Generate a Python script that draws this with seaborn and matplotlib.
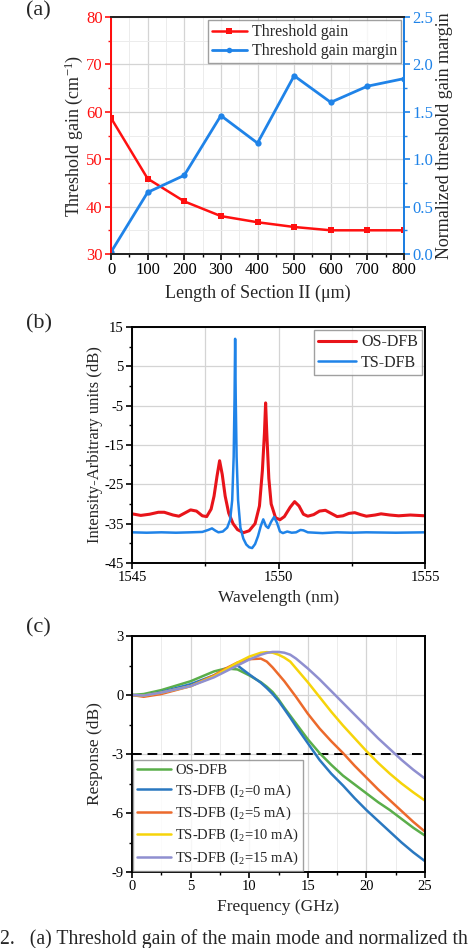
import matplotlib
matplotlib.use("Agg")
import matplotlib.pyplot as plt
from matplotlib.ticker import MultipleLocator, FixedLocator, FormatStrFormatter
from matplotlib.lines import Line2D
import pandas as pd
import seaborn as sns

sns.set_theme(style="white")
plt.rcParams["font.family"] = ["Liberation Serif", "DejaVu Serif"]
plt.rcParams["mathtext.fontset"] = "custom"
plt.rcParams["mathtext.rm"] = "Liberation Serif"
plt.rcParams["mathtext.it"] = "Liberation Serif:italic"
plt.rcParams["axes.unicode_minus"] = False

# ---- panel (a) data ----
section_len = [0, 100, 200, 300, 400, 500, 600, 700, 800]
threshold_gain = [58.7, 45.9, 41.1, 38.0, 36.7, 35.7, 35.0, 35.0, 35.0]
gain_margin = [0.02, 0.65, 0.83, 1.46, 1.17, 1.88, 1.60, 1.77, 1.85]

# ---- panel (b) data ----
os_wl = [1545.0, 1545.3, 1545.6, 1545.9, 1546.1, 1546.4, 1546.6, 1546.8, 1547.0, 1547.2,
         1547.4, 1547.55, 1547.7, 1547.8, 1547.9, 1547.99, 1548.08, 1548.18, 1548.3, 1548.45,
         1548.6, 1548.8, 1549.0, 1549.2, 1549.35, 1549.45, 1549.52, 1549.56, 1549.6, 1549.67,
         1549.75, 1549.9, 1550.05, 1550.2, 1550.4, 1550.55, 1550.7, 1550.85, 1551.0, 1551.2,
         1551.4, 1551.6, 1551.8, 1552.0, 1552.2, 1552.4, 1552.6, 1552.8, 1553.0, 1553.3,
         1553.5, 1553.8, 1554.1, 1554.5, 1555.0]
os_db = [-32.5, -32.9, -32.6, -32.1, -32.1, -32.8, -33.1, -32.3, -31.5, -31.8,
         -33.0, -33.2, -31.3, -28.0, -23.0, -19.0, -22.5, -28.0, -32.3, -35.0,
         -36.5, -37.3, -36.8, -35.0, -30.5, -21.5, -12.0, -4.3, -12.0, -23.5,
         -30.0, -33.5, -34.0, -33.2, -30.8, -29.4, -30.5, -32.6, -33.1, -32.7,
         -31.8, -31.6, -32.4, -33.2, -33.0, -32.4, -32.2, -32.7, -33.1, -32.8,
         -32.5, -32.8, -33.0, -32.8, -33.0]

ts_wl = [1545.0, 1545.5, 1546.0, 1546.5, 1547.0, 1547.4, 1547.6, 1547.73, 1547.85, 1547.95,
         1548.1, 1548.25, 1548.35, 1548.42, 1548.47, 1548.5, 1548.52, 1548.54, 1548.57, 1548.62,
         1548.7, 1548.8, 1548.9, 1549.0, 1549.1, 1549.2, 1549.3, 1549.4, 1549.48, 1549.57,
         1549.65, 1549.75, 1549.85, 1549.95, 1550.05, 1550.15, 1550.3, 1550.45, 1550.6, 1550.75,
         1550.85, 1551.0, 1551.5, 1552.0, 1552.5, 1553.0, 1554.0, 1555.0]
ts_db = [-37.2, -37.3, -37.2, -37.3, -37.2, -37.1, -36.6, -36.2, -36.8, -37.2,
         -37.0, -36.0, -34.0, -29.0, -18.0, -3.0, 12.0, -3.0, -18.0, -29.0,
         -36.0, -38.8, -40.3, -41.0, -41.2, -40.2, -38.2, -35.5, -33.9, -35.6,
         -36.1, -34.5, -33.3, -34.8, -37.0, -37.4, -37.0, -37.3, -37.2, -36.6,
         -36.7, -37.2, -37.4, -37.2, -37.3, -37.2, -37.3, -37.2]

# ---- panel (c) data ----
freq = [0, 1, 2.5, 5, 7, 8, 9, 10, 11, 11.5, 12, 12.5, 13, 13.5, 14, 15, 16, 17, 18, 19,
        20, 21, 22, 23, 24, 25]
resp_os = [0, 0.05, 0.25, 0.70, 1.20, 1.35, 1.30, 1.00, 0.65, 0.42, 0.15, -0.22, -0.65, -1.05,
           -1.45, -2.25, -2.95, -3.55, -4.10, -4.55, -5.00, -5.45, -5.85, -6.30, -6.75, -7.15]
resp_i0 = [0, -0.03, 0.15, 0.55, 1.00, 1.30, 1.50, 1.05, 0.62, 0.35, 0.05, -0.30, -0.72, -1.15,
           -1.60, -2.45, -3.30, -4.00, -4.60, -5.25, -5.85, -6.40, -6.95, -7.50, -8.00, -8.45]
resp_i5 = [0, -0.09, 0.05, 0.45, 1.00, 1.35, 1.65, 1.82, 1.85, 1.70, 1.40, 1.05, 0.70, 0.30,
           -0.10, -0.95, -1.70, -2.35, -2.95, -3.60, -4.20, -4.80, -5.35, -5.90, -6.45, -6.95]
resp_i10 = [0, -0.03, 0.12, 0.45, 0.95, 1.30, 1.65, 1.95, 2.15, 2.18, 2.15, 2.05, 1.90, 1.70,
            1.35, 0.65, -0.10, -0.85, -1.55, -2.20, -2.85, -3.45, -4.00, -4.50, -4.95, -5.37]
resp_i15 = [0, -0.03, 0.12, 0.45, 0.90, 1.20, 1.50, 1.80, 2.05, 2.14, 2.19, 2.19, 2.15, 2.05,
            1.85, 1.35, 0.80, 0.20, -0.40, -1.00, -1.60, -2.20, -2.75, -3.30, -3.80, -4.25]
resp_labels = ["OS-DFB", "TS-DFB (I$_2$=0 mA)", "TS-DFB (I$_2$=5 mA)",
               "TS-DFB (I$_2$=10 mA)", "TS-DFB (I$_2$=15 mA)"]
resp_colors = ["#5aae4a", "#2a78c0", "#ec6a2c", "#f6d40a", "#8f8fd0"]

RED = "#ff1010"
BLUE = "#1f83e8"
GRID = "#d4d4d4"
MINOR_GRID = "#ececec"

fig = plt.figure(figsize=(4.74, 9.48), dpi=100)
W, H = 474, 948


def box(left, top, right, bottom):
    return [left / W, (H - bottom) / H, (right - left) / W, (bottom - top) / H]


def style_axes(ax, size):
    for s in ax.spines.values():
        s.set_color("black")
        s.set_linewidth(1.4)
    ax.tick_params(which="major", direction="out", length=4, width=1.2, colors="black",
                   labelsize=size, pad=2)
    ax.tick_params(which="minor", direction="out", length=2.5, width=1.0, colors="black")
    ax.tick_params(top=False, right=False, bottom=True, left=True)
    ax.tick_params(which="minor", top=False, right=False, bottom=True, left=True)


def style_legend(leg):
    leg.get_frame().set_linewidth(1.0)
    leg.get_frame().set_edgecolor("#888888")


# ================= (a) =================
ax_a = fig.add_axes(box(111, 17, 404, 254))
ax_a2 = ax_a.twinx()
df_a = pd.DataFrame({"L": section_len, "gain": threshold_gain, "margin": gain_margin})
sns.lineplot(data=df_a, x="L", y="gain", ax=ax_a, color=RED, lw=1.8, marker="s",
             markersize=4.5, markeredgewidth=0)
sns.lineplot(data=df_a, x="L", y="margin", ax=ax_a2, color=BLUE, lw=2.0, marker="o",
             markersize=4.5, markeredgewidth=0)
ax_a.set_xlim(0, 800)
ax_a.set_ylim(30, 80)
ax_a2.set_ylim(0, 2.5)
ax_a.xaxis.set_major_locator(MultipleLocator(100))
ax_a.xaxis.set_minor_locator(MultipleLocator(50))
ax_a.yaxis.set_major_locator(MultipleLocator(10))
ax_a.yaxis.set_minor_locator(MultipleLocator(5))
ax_a2.yaxis.set_major_locator(MultipleLocator(0.5))
ax_a2.yaxis.set_minor_locator(MultipleLocator(0.25))
ax_a2.yaxis.set_major_formatter(FormatStrFormatter("%.1f"))
ax_a.grid(which="major", color=GRID, lw=0.9)
ax_a.grid(which="minor", color=MINOR_GRID, lw=0.7)
ax_a.set_axisbelow(True)
style_axes(ax_a, 12)
for s in ax_a2.spines.values():
    s.set_linewidth(1.4)
ax_a.spines["left"].set_color(RED)
ax_a2.spines["left"].set_color(RED)
ax_a2.spines["right"].set_color(BLUE)
ax_a.tick_params(axis="y", which="both", colors=RED)
ax_a2.tick_params(axis="y", which="major", direction="out", length=4, width=1.2,
                  colors=BLUE, labelsize=12, pad=2)
ax_a2.tick_params(axis="y", which="minor", direction="out", length=2.5, width=1.0,
                  colors=BLUE)
ax_a.set_xlabel("Length of Section II (μm)", fontsize=13, labelpad=4)
ax_a.set_ylabel("Threshold gain (cm$^{-1}$)", fontsize=13, labelpad=1)
ax_a2.set_ylabel("Normalized threshold gain margin", fontsize=13, labelpad=2)
handles_a = [Line2D([], [], color=RED, lw=1.8, marker="s", markersize=4, markeredgewidth=0),
             Line2D([], [], color=BLUE, lw=2.0, marker="o", markersize=4, markeredgewidth=0)]
leg = ax_a2.legend(handles_a, ["Threshold gain", "Threshold gain margin"], loc="upper right",
                   fontsize=11.5, frameon=True, fancybox=False, borderaxespad=0.2,
                   handlelength=2.2, handletextpad=0.3, labelspacing=0.2, borderpad=0.25)
style_legend(leg)
fig.text(26 / W, 1 - 11 / H, "(a)", fontsize=16, va="center", ha="left")

# ================= (b) =================
ax_b = fig.add_axes(box(132, 327, 425, 563))
df_os = pd.DataFrame({"wl": os_wl, "db": os_db})
df_ts = pd.DataFrame({"wl": ts_wl, "db": ts_db})
sns.lineplot(data=df_os, x="wl", y="db", ax=ax_b, color="#e8141a", lw=2.2, label="OS-DFB")
sns.lineplot(data=df_ts, x="wl", y="db", ax=ax_b, color=BLUE, lw=1.8, label="TS-DFB")
ax_b.set_xlim(1545, 1555)
ax_b.set_ylim(-45, 15)
ax_b.xaxis.set_major_locator(MultipleLocator(5))
ax_b.xaxis.set_minor_locator(MultipleLocator(2.5))
ax_b.yaxis.set_major_locator(FixedLocator([15, 5, -5, -15, -25, -35, -45]))
ax_b.yaxis.set_minor_locator(FixedLocator([10, 0, -10, -20, -30, -40]))
ax_b.grid(which="major", color=GRID, lw=0.9)
ax_b.grid(which="minor", axis="x", color=GRID, lw=0.9)
ax_b.set_axisbelow(True)
style_axes(ax_b, 10.5)
ax_b.set_xlabel("Wavelength (nm)", fontsize=12.5, labelpad=4)
ax_b.set_ylabel("Intensity-Arbitrary units (dB)", fontsize=12, labelpad=1)
leg = ax_b.legend(loc="upper right", fontsize=11.5, frameon=True, fancybox=False,
                  borderaxespad=0.2, handlelength=2.4, handletextpad=0.3,
                  labelspacing=0.3, borderpad=0.25)
style_legend(leg)
fig.text(26 / W, 1 - 324 / H, "(b)", fontsize=16, va="center", ha="left")

# ================= (c) =================
ax_c = fig.add_axes(box(132, 636, 425, 872))
all_resp = [resp_os, resp_i0, resp_i5, resp_i10, resp_i15]
for vals, lab, col in zip(all_resp, resp_labels, resp_colors):
    sns.lineplot(x=freq, y=vals, ax=ax_c, color=col, lw=1.8, label=lab)
ax_c.axhline(-3, color="black", lw=1.4, ls=(0, (5, 3)), zorder=1)
ax_c.set_xlim(0, 25)
ax_c.set_ylim(-9, 3)
ax_c.xaxis.set_major_locator(MultipleLocator(5))
ax_c.xaxis.set_minor_locator(MultipleLocator(2.5))
ax_c.yaxis.set_major_locator(MultipleLocator(3))
ax_c.yaxis.set_minor_locator(MultipleLocator(1.5))
ax_c.grid(which="major", color=GRID, lw=0.9)
ax_c.grid(which="minor", axis="x", color=MINOR_GRID, lw=0.7)
ax_c.set_axisbelow(True)
style_axes(ax_c, 10.5)
ax_c.set_xlabel("Frequency (GHz)", fontsize=12.5, labelpad=4)
ax_c.set_ylabel("Response (dB)", fontsize=12.5, labelpad=6)
leg = ax_c.legend(loc="lower left", fontsize=10.5, frameon=True, fancybox=False,
                  borderaxespad=0.05, handlelength=2.3, handletextpad=0.3,
                  labelspacing=0.35, borderpad=0.3)
style_legend(leg)
fig.text(26 / W, 1 - 628 / H, "(c)", fontsize=16, va="center", ha="left")

fig.text(0, 4 / H, "2.   (a) Threshold gain of the main mode and normalized th",
         fontsize=14.2, ha="left", va="baseline")

fig.savefig("out.png", dpi=100)
